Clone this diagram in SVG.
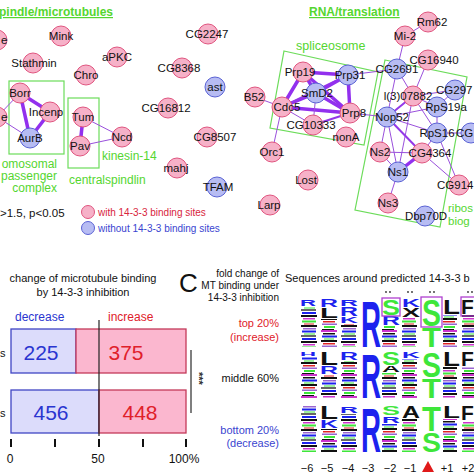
<svg xmlns="http://www.w3.org/2000/svg" width="474" height="474" viewBox="0 0 474 474">
<defs>
<style>
text{font-family:"Liberation Sans",Arial,sans-serif}
.nl{font-size:11.5px;fill:#111;text-anchor:middle}
.pk{fill:#f6b1c8;stroke:#e0557f;stroke-width:1}
.bl{fill:#b7bcf3;stroke:#5a62d4;stroke-width:1}
.e1{stroke:#9a50dc;stroke-width:1;fill:none}
.e2{stroke:#9438e8;stroke-width:2;fill:none}
.e3{stroke:#9230ee;stroke-width:3.5;fill:none;stroke-linecap:round}
.box{fill:none;stroke:#6cdc5a;stroke-width:1.2}
.gt{fill:#55d630;font-size:12px}
.tt{fill:#55d630;font-size:12px;font-weight:bold;text-decoration:underline}
.lg{font-weight:bold;font-size:10px;text-anchor:middle}
.cb{fill:#1c22ee}.ck{fill:#111}.cg{fill:#3ee63a}.cm{fill:#cc33cc}.cr{fill:#e02424}.cp{fill:#9a66d0}.cy{fill:#666}
.mb{fill:none;stroke:#b040d0;stroke-width:1.3}
.tk{stroke:#111;stroke-width:2}
.ax{font-size:12px;text-anchor:middle;fill:#111}
.lx{font-size:11px;text-anchor:middle;fill:#111}
.rt{font-size:10px;text-anchor:end;fill:#111}
.rr{font-size:11px;text-anchor:end;fill:#e0202a}
.rb{font-size:11px;text-anchor:end;fill:#3a44d0}
.rk{font-size:11px;text-anchor:end;fill:#111}
</style>
<pattern id="pa" width="20" height="26" patternUnits="userSpaceOnUse">
<rect x="2" y="0" width="14" height="2" class="cb"/>
<rect x="1" y="3" width="16" height="2" class="ck"/>
<rect x="3" y="6" width="12" height="1.5" class="cm"/>
<rect x="2" y="8.5" width="14" height="2" class="cg"/>
<rect x="4" y="11.5" width="10" height="1" class="cr"/>
<rect x="1" y="13" width="16" height="2" class="ck"/>
<rect x="3" y="16" width="13" height="1.5" class="cp"/>
<rect x="2" y="18.5" width="14" height="2" class="cb"/>
<rect x="4" y="21.5" width="11" height="1" class="cg"/>
<rect x="1" y="23" width="15" height="2" class="cy"/>
</pattern>
<pattern id="pb" width="20" height="22" patternUnits="userSpaceOnUse">
<rect x="1" y="0" width="16" height="2" class="cm"/>
<rect x="3" y="3" width="12" height="1.5" class="ck"/>
<rect x="2" y="5.5" width="15" height="2" class="cb"/>
<rect x="4" y="8.5" width="10" height="1" class="cg"/>
<rect x="1" y="10" width="16" height="2" class="ck"/>
<rect x="3" y="13" width="12" height="1.5" class="cr"/>
<rect x="2" y="15.5" width="15" height="1.5" class="cp"/>
<rect x="4" y="18" width="11" height="2" class="cg"/>
<rect x="2" y="21" width="12" height="1" class="ck"/>
</pattern>
</defs>
<rect width="474" height="474" fill="#fff"/>

<!-- titles -->
<text x="113" y="16" class="tt" text-anchor="end">pindle/microtubules</text>
<text x="309" y="16" class="tt">RNA/translation</text>

<!-- boxes -->
<g id="boxes">
<rect x="9" y="81" width="55" height="73" class="box"/>
<rect x="68" y="98" width="31" height="70" class="box"/>
<polygon points="284,51 378,72 364,145 270,128" class="box"/>
<polygon points="385,60 467,77 440,227 355,210" class="box"/>
</g>
<text x="57" y="168" class="gt" text-anchor="end">omosomal</text>
<text x="57" y="180" class="gt" text-anchor="end">passenger</text>
<text x="57" y="192" class="gt" text-anchor="end">complex</text>
<text x="102" y="160" class="gt">kinesin-14</text>
<text x="69" y="184" class="gt">centralspindlin</text>
<text x="296" y="50" class="gt" style="font-size:12.5px">spliceosome</text>
<text x="448" y="212" class="gt" style="font-size:11.5px">ribos</text>
<text x="448" y="225" class="gt" style="font-size:11.5px">biog</text>

<!-- connectors -->
<g id="connectors">
<line x1="20" y1="93" x2="50" y2="112" class="e3"/>
<line x1="20" y1="93" x2="30" y2="138" class="e3"/>
<line x1="50" y1="112" x2="30" y2="138" class="e3"/>
<line x1="-3" y1="117" x2="20" y2="93" class="e1"/>
<line x1="-3" y1="117" x2="30" y2="138" class="e1"/>
<line x1="83" y1="117" x2="80" y2="146" class="e3"/>
<line x1="83" y1="117" x2="122" y2="137" class="e1"/>
<line x1="80" y1="146" x2="122" y2="137" class="e1"/>

<line x1="255" y1="97" x2="282" y2="107" class="e1"/>
<line x1="282" y1="107" x2="303" y2="72" class="e3"/>
<line x1="282" y1="107" x2="316" y2="93" class="e3"/>
<line x1="282" y1="107" x2="348" y2="75" class="e2"/>
<line x1="282" y1="107" x2="350" y2="113" class="e3"/>
<line x1="282" y1="107" x2="313" y2="125" class="e1"/>
<line x1="282" y1="107" x2="272" y2="152" class="e1"/>
<line x1="303" y1="72" x2="316" y2="93" class="e3"/>
<line x1="303" y1="72" x2="348" y2="75" class="e3"/>
<line x1="303" y1="72" x2="350" y2="113" class="e3"/>
<line x1="316" y1="93" x2="348" y2="75" class="e3"/>
<line x1="316" y1="93" x2="350" y2="113" class="e3"/>
<line x1="348" y1="75" x2="350" y2="113" class="e3"/>
<line x1="313" y1="125" x2="350" y2="113" class="e2"/>
<line x1="316" y1="93" x2="313" y2="125" class="e1"/>
<line x1="348" y1="75" x2="397" y2="69" class="e1"/>
<line x1="350" y1="113" x2="387" y2="117" class="e1"/>
<line x1="405" y1="36" x2="397" y2="69" class="e1"/>
<line x1="405" y1="36" x2="428" y2="22" class="e1"/>
<line x1="428" y1="60" x2="413" y2="96" class="e1"/>
<line x1="397" y1="69" x2="413" y2="96" class="e1"/>
<line x1="397" y1="69" x2="387" y2="117" class="e1"/>
<line x1="413" y1="96" x2="387" y2="117" class="e2"/>
<line x1="413" y1="96" x2="455" y2="90" class="e1"/>
<line x1="413" y1="96" x2="437" y2="107" class="e1"/>
<line x1="413" y1="96" x2="437" y2="133" class="e1"/>
<line x1="413" y1="96" x2="398" y2="172" class="e1"/>
<line x1="387" y1="117" x2="380" y2="152" class="e1"/>
<line x1="387" y1="117" x2="398" y2="172" class="e1"/>
<line x1="387" y1="117" x2="422" y2="153" class="e2"/>
<line x1="387" y1="117" x2="437" y2="133" class="e1"/>
<line x1="387" y1="117" x2="437" y2="107" class="e1"/>
<line x1="380" y1="152" x2="398" y2="172" class="e1"/>
<line x1="380" y1="152" x2="422" y2="153" class="e1"/>
<line x1="422" y1="153" x2="398" y2="172" class="e3"/>
<line x1="437" y1="133" x2="422" y2="153" class="e1"/>
<line x1="437" y1="133" x2="437" y2="107" class="e1"/>
<line x1="437" y1="133" x2="471" y2="133" class="e1"/>
<line x1="455" y1="90" x2="437" y2="107" class="e1"/>
<line x1="422" y1="153" x2="459" y2="185" class="e1"/>
<line x1="437" y1="133" x2="459" y2="185" class="e1"/>
<line x1="398" y1="172" x2="388" y2="203" class="e1"/>
</g>

<!-- nodes -->
<g id="n-e1"><circle cx="-3" cy="40" r="10" class="pk"/><text x="1" y="44" class="nl" style="text-anchor:start">e</text></g>
<g id="n-Mink"><circle cx="61" cy="36" r="10" class="pk"/><text x="61" y="40" class="nl">Mink</text></g>
<g id="n-Stathmin"><circle cx="33" cy="63" r="10" class="pk"/><text x="34" y="67" class="nl">Stathmin</text></g>
<g id="n-aPKC"><circle cx="117" cy="57" r="10" class="pk"/><text x="117" y="61" class="nl">aPKC</text></g>
<g id="n-Chro"><circle cx="86" cy="75" r="10" class="pk"/><text x="86" y="79" class="nl">Chro</text></g>
<g id="n-Borr"><circle cx="20" cy="93" r="10" class="pk"/><text x="20" y="97" class="nl">Borr</text></g>
<g id="n-Incenp"><circle cx="50" cy="112" r="10" class="pk"/><text x="46" y="116" class="nl">Incenp</text></g>
<g id="n-e2"><circle cx="-3" cy="117" r="10" class="pk"/><text x="1" y="121" class="nl" style="text-anchor:start">e</text></g>
<g id="n-Tum"><circle cx="83" cy="117" r="10" class="pk"/><text x="83" y="121" class="nl">Tum</text></g>
<g id="n-AurB"><circle cx="30" cy="138" r="10" class="bl"/><text x="30" y="142" class="nl">AurB</text></g>
<g id="n-Pav"><circle cx="80" cy="146" r="10" class="pk"/><text x="80" y="150" class="nl">Pav</text></g>
<g id="n-Ncd"><circle cx="122" cy="137" r="10" class="pk"/><text x="122" y="141" class="nl">Ncd</text></g>

<g id="n-CG2247"><circle cx="208" cy="34" r="10" class="pk"/><text x="207" y="38" class="nl">CG2247</text></g>
<g id="n-CG8368"><circle cx="182" cy="68" r="10" class="pk"/><text x="179" y="72" class="nl">CG8368</text></g>
<g id="n-ast"><circle cx="215" cy="87" r="10" class="bl"/><text x="215" y="91" class="nl">ast</text></g>
<g id="n-CG16812"><circle cx="168" cy="108" r="10" class="pk"/><text x="166" y="112" class="nl">CG16812</text></g>
<g id="n-CG8507"><circle cx="207" cy="137" r="10" class="pk"/><text x="215" y="141" class="nl">CG8507</text></g>
<g id="n-mahj"><circle cx="177" cy="168" r="10" class="pk"/><text x="176" y="172" class="nl">mahj</text></g>
<g id="n-TFAM"><circle cx="217" cy="187" r="10" class="bl"/><text x="218" y="191" class="nl">TFAM</text></g>
<g id="n-B52"><circle cx="255" cy="97" r="10" class="pk"/><text x="254" y="101" class="nl">B52</text></g>
<g id="n-Orc1"><circle cx="272" cy="152" r="10" class="pk"/><text x="272" y="156" class="nl">Orc1</text></g>
<g id="n-Lost"><circle cx="308" cy="180" r="10" class="pk"/><text x="306" y="184" class="nl">Lost</text></g>
<g id="n-Larp"><circle cx="270" cy="205" r="10" class="pk"/><text x="269" y="209" class="nl">Larp</text></g>

<g id="n-Prp19"><circle cx="303" cy="72" r="10" class="pk"/><text x="300" y="76" class="nl">Prp19</text></g>
<g id="n-SmD2"><circle cx="316" cy="93" r="10" class="bl"/><text x="317" y="97" class="nl">SmD2</text></g>
<g id="n-Prp31"><circle cx="348" cy="75" r="10" class="bl"/><text x="350" y="79" class="nl">Prp31</text></g>
<g id="n-Cdc5"><circle cx="282" cy="107" r="10" class="pk"/><text x="287" y="111" class="nl">Cdc5</text></g>
<g id="n-Prp8"><circle cx="350" cy="113" r="10" class="pk"/><text x="354" y="117" class="nl">Prp8</text></g>
<g id="n-CG10333"><circle cx="313" cy="125" r="10" class="pk"/><text x="311" y="129" class="nl">CG10333</text></g>
<g id="n-nonA"><circle cx="346" cy="137" r="10" class="pk"/><text x="346" y="141" class="nl">nonA</text></g>

<g id="n-Rm62"><circle cx="428" cy="22" r="10" class="pk"/><text x="432" y="26" class="nl">Rm62</text></g>
<g id="n-Mi-2"><circle cx="405" cy="36" r="10" class="pk"/><text x="405" y="40" class="nl">Mi-2</text></g>
<g id="n-CG16940"><circle cx="428" cy="60" r="10" class="pk"/><text x="434" y="64" class="nl">CG16940</text></g>
<g id="n-CG2691"><circle cx="397" cy="69" r="10" class="bl"/><text x="397" y="73" class="nl">CG2691</text></g>
<g id="n-l307882"><circle cx="413" cy="96" r="10" class="pk"/><text x="408" y="100" class="nl">l(3)07882</text></g>
<g id="n-CG297a"><circle cx="455" cy="90" r="10" class="bl"/><text x="436" y="94" class="nl" style="text-anchor:start">CG297</text></g>
<g id="n-RpS19a"><circle cx="437" cy="107" r="10" class="bl"/><text x="446" y="111" class="nl">RpS19a</text></g>
<g id="n-Nop52"><circle cx="387" cy="117" r="10" class="bl"/><text x="392" y="121" class="nl">Nop52</text></g>
<g id="n-RpS16"><circle cx="437" cy="133" r="10" class="bl"/><text x="437" y="137" class="nl">RpS16</text></g>
<g id="n-CG297b"><circle cx="471" cy="133" r="10" class="bl"/><text x="456" y="137" class="nl" style="text-anchor:start">CG</text></g>
<g id="n-Ns2"><circle cx="380" cy="152" r="10" class="pk"/><text x="380" y="156" class="nl">Ns2</text></g>
<g id="n-CG4364"><circle cx="422" cy="153" r="10" class="pk"/><text x="430" y="157" class="nl">CG4364</text></g>
<g id="n-Ns1"><circle cx="398" cy="172" r="10" class="bl"/><text x="398" y="176" class="nl">Ns1</text></g>
<g id="n-CG914"><circle cx="459" cy="185" r="10" class="pk"/><text x="437" y="189" class="nl" style="text-anchor:start">CG914</text></g>
<g id="n-Ns3"><circle cx="388" cy="203" r="10" class="pk"/><text x="388" y="207" class="nl">Ns3</text></g>
<g id="n-Dbp70D"><circle cx="425" cy="216" r="10" class="bl"/><text x="426" y="220" class="nl">Dbp70D</text></g>

<!-- legend -->
<g id="legend">
<text x="0" y="217" style="font-size:11.5px" fill="#111">&gt;1.5, p&lt;0.05</text>
<circle cx="88" cy="212" r="6.5" class="pk"/>
<text x="98" y="216" style="font-size:10px" fill="#d8243c">with 14-3-3 binding sites</text>
<circle cx="88" cy="228" r="6.5" class="bl"/>
<text x="98" y="232" style="font-size:10px" fill="#3a44d0">without 14-3-3 binding sites</text>
</g>

<!-- panel B -->
<g id="panelB">
<text x="83" y="282" style="font-size:11px;text-anchor:middle" fill="#111">change of microtubule binding</text>
<text x="83" y="296" style="font-size:11px;text-anchor:middle" fill="#111">by 14-3-3 inhibition</text>
<text x="15" y="321" style="font-size:12px" fill="#2a35d0">decrease</text>
<text x="108" y="321" style="font-size:12px" fill="#e0202a">increase</text>
<rect x="11" y="329" width="65" height="44" fill="#dcdcfb" stroke="#4046c4" stroke-width="1.3"/>
<rect x="76" y="329" width="110" height="44" fill="#fbb7cf" stroke="#c43a5a" stroke-width="1.3"/>
<rect x="11" y="390" width="88" height="43" fill="#dcdcfb" stroke="#4046c4" stroke-width="1.3"/>
<rect x="99" y="390" width="87" height="43" fill="#fbb7cf" stroke="#c43a5a" stroke-width="1.3"/>
<line x1="99" y1="320" x2="99" y2="436" stroke="#222" stroke-width="1.2"/>
<text x="41" y="360" style="font-size:21px;text-anchor:middle" fill="#2a35d0">225</text>
<text x="126" y="360" style="font-size:21px;text-anchor:middle" fill="#e0202a">375</text>
<text x="51" y="420" style="font-size:21px;text-anchor:middle" fill="#2a35d0">456</text>
<text x="140" y="420" style="font-size:21px;text-anchor:middle" fill="#e0202a">448</text>
<text x="0" y="357" style="font-size:11px" fill="#111">s</text>
<text x="0" y="417" style="font-size:11px" fill="#111">s</text>
<line x1="191" y1="350" x2="191" y2="413" stroke="#555" stroke-width="1.5"/>
<text transform="translate(195,372) rotate(90)" style="font-size:11px;font-weight:bold" fill="#333">***</text>
<line x1="11" y1="439" x2="11" y2="447" class="tk"/>
<line x1="55" y1="439" x2="55" y2="447" class="tk"/>
<line x1="99" y1="439" x2="99" y2="447" class="tk"/>
<line x1="143" y1="439" x2="143" y2="447" class="tk"/>
<line x1="186" y1="439" x2="186" y2="447" class="tk"/>
<text x="10" y="463" class="ax">0</text>
<text x="98" y="463" class="ax">50</text>
<text x="184" y="463" class="ax">100%</text>
</g>

<!-- panel C -->
<g id="panelC">
<text x="179" y="292" style="font-size:26px" fill="#111">C</text>
<text x="279" y="277" class="rt">fold change of</text>
<text x="279" y="289" class="rt">MT binding under</text>
<text x="279" y="301" class="rt">14-3-3 inhibition</text>
<text x="279" y="327" class="rr">top 20%</text>
<text x="279" y="341" class="rr">(increase)</text>
<text x="279" y="382" class="rk">middle 60%</text>
<text x="279" y="434" class="rb">bottom 20%</text>
<text x="279" y="447" class="rb">(decrease)</text>
<text x="285" y="282" style="font-size:11px" fill="#111">Sequences around predicted 14-3-3 b</text>

<!-- logo: filler stripes -->
<g id="logo-fill">
<rect x="300" y="307" width="17" height="40" fill="url(#pa)"/>
<rect x="320" y="319" width="18" height="28" fill="url(#pb)"/>
<rect x="340" y="324" width="18" height="23" fill="url(#pa)"/>
<rect x="382" y="326" width="18" height="21" fill="url(#pb)"/>
<rect x="402" y="318" width="18" height="29" fill="url(#pa)"/>
<rect x="443" y="315" width="17" height="32" fill="url(#pb)"/>
<rect x="462" y="315" width="12" height="32" fill="url(#pa)"/>

<rect x="300" y="357" width="17" height="41" fill="url(#pb)"/>
<rect x="320" y="375" width="18" height="23" fill="url(#pa)"/>
<rect x="340" y="361" width="18" height="37" fill="url(#pb)"/>
<rect x="382" y="373" width="18" height="25" fill="url(#pa)"/>
<rect x="402" y="359" width="18" height="39" fill="url(#pb)"/>
<rect x="443" y="367" width="17" height="31" fill="url(#pa)"/>
<rect x="462" y="367" width="12" height="31" fill="url(#pb)"/>

<rect x="300" y="406" width="17" height="46" fill="url(#pa)"/>
<rect x="320" y="429" width="18" height="23" fill="url(#pb)"/>
<rect x="340" y="414" width="18" height="38" fill="url(#pa)"/>
<rect x="382" y="424" width="18" height="28" fill="url(#pb)"/>
<rect x="402" y="419" width="18" height="33" fill="url(#pa)"/>
<rect x="443" y="419" width="17" height="33" fill="url(#pb)"/>
<rect x="462" y="421" width="12" height="31" fill="url(#pa)"/>
</g>

<!-- logo letters -->
<g id="logo-letters">
<text class="lg cb" transform="translate(308,306) scale(2.22,0.98)">R</text>
<text class="lg cb" transform="translate(329,307) scale(2.49,1.12)">R</text>
<text class="lg ck" transform="translate(329,318) scale(2.95,1.40)">L</text>
<text class="lg cb" transform="translate(349,306) scale(2.49,0.98)">R</text>
<text class="lg cb" transform="translate(349,316) scale(2.49,1.26)">R</text>
<text class="lg cb" transform="translate(349,323) scale(2.49,0.84)">K</text>
<text class="lg cb" transform="translate(371,347) scale(2.77,6.56)">R</text>
<text class="lg cg" transform="translate(391,315) scale(2.70,2.23)">S</text>
<text class="lg cb" transform="translate(391,325) scale(2.49,1.26)">R</text>
<text class="lg cb" transform="translate(411,307) scale(2.49,1.12)">K</text>
<text class="lg ck" transform="translate(411,317) scale(2.70,1.26)">X</text>
<text class="lg cg" transform="translate(431.5,326) scale(2.85,3.77)">S</text>
<text class="lg cg" transform="translate(431.5,347) scale(3.11,2.79)">T</text>
<text class="lg ck" transform="translate(451.5,314) scale(2.78,2.09)">L</text>
<text class="lg ck" transform="translate(467.5,314) scale(2.1,2.09)">F</text>
<rect x="382" y="298" width="18" height="18" class="mb"/>
<rect x="421" y="297" width="21" height="30" class="mb"/>
<rect x="461" y="297" width="18" height="19" class="mb"/>

<text class="lg cb" transform="translate(308,356) scale(2.22,0.56)">H</text>
<text class="lg ck" transform="translate(329,365) scale(2.95,1.82)">L</text>
<text class="lg cb" transform="translate(329,374) scale(2.49,1.12)">R</text>
<text class="lg cb" transform="translate(349,360) scale(2.49,1.12)">R</text>
<text class="lg cb" transform="translate(371,398) scale(2.77,6.28)">R</text>
<text class="lg cg" transform="translate(391,365) scale(2.70,1.82)">S</text>
<text class="lg ck" transform="translate(391,372) scale(2.49,0.84)">A</text>
<text class="lg cb" transform="translate(411,358) scale(2.49,0.84)">K</text>
<text class="lg cg" transform="translate(431.5,377) scale(2.85,3.49)">S</text>
<text class="lg cg" transform="translate(431.5,398) scale(3.11,2.79)">T</text>
<text class="lg ck" transform="translate(451.5,366) scale(2.78,1.96)">L</text>
<text class="lg ck" transform="translate(467.5,366) scale(2.1,1.96)">F</text>

<text class="lg ck" transform="translate(329,419) scale(2.95,1.82)">L</text>
<text class="lg cb" transform="translate(329,428) scale(2.49,1.12)">K</text>
<text class="lg cb" transform="translate(349,413) scale(2.49,0.98)">R</text>
<text class="lg cb" transform="translate(371,452) scale(2.77,6.28)">R</text>
<text class="lg cg" transform="translate(391,415) scale(2.70,1.26)">S</text>
<text class="lg cb" transform="translate(391,423) scale(2.49,0.98)">R</text>
<text class="lg ck" transform="translate(411,418) scale(2.49,1.68)">A</text>
<text class="lg cg" transform="translate(431.5,431) scale(3.11,3.49)">T</text>
<text class="lg cg" transform="translate(431.5,452) scale(2.85,2.79)">S</text>
<text class="lg ck" transform="translate(451.5,418) scale(2.78,1.68)">L</text>
<text class="lg ck" transform="translate(467.5,420) scale(2.1,1.96)">F</text>
</g>

<g id="logo-dots" fill="#333">
<circle cx="386" cy="292" r="0.9"/><circle cx="390" cy="292" r="0.9"/>
<circle cx="408" cy="292" r="0.9"/><circle cx="412" cy="292" r="0.9"/>
<circle cx="430" cy="292" r="0.9"/><circle cx="434" cy="292" r="0.9"/>
<circle cx="468" cy="292" r="0.9"/><circle cx="472" cy="292" r="0.9"/>
</g>

<g id="logo-axis">
<text x="307" y="472" class="lx">−6</text>
<text x="327" y="472" class="lx">−5</text>
<text x="348" y="472" class="lx">−4</text>
<text x="368" y="472" class="lx">−3</text>
<text x="390" y="472" class="lx">−2</text>
<text x="410" y="472" class="lx">−1</text>
<polygon points="428,461 434,472 422,472" fill="#e01a1a"/>
<text x="447" y="472" class="lx">+1</text>
<text x="468" y="472" class="lx">+2</text>
</g>
</g>
</svg>
